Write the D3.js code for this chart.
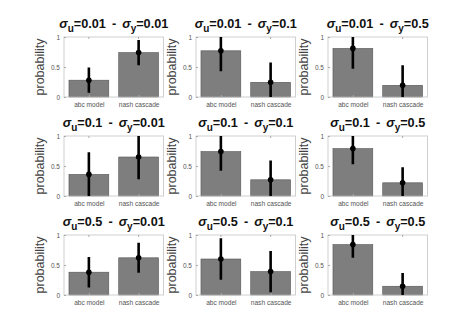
<!DOCTYPE html>
<html><head><meta charset="utf-8">
<script src="https://d3js.org/d3.v7.min.js"></script>
<style>body{margin:0;background:#fff}svg{display:block}</style>
</head><body>
<script>
const categories = ["abc model", "nash cascade"];
const sigmaUVals = ["0.01", "0.1", "0.5"];
const sigmaYVals = ["0.01", "0.1", "0.5"];
const abcMean  = [0.28, 0.77, 0.81, 0.36, 0.74, 0.79, 0.38, 0.60, 0.84];
const nashMean = [0.74, 0.245, 0.195, 0.65, 0.27, 0.22, 0.62, 0.39, 0.146];
const abcStd   = [0.21, 0.34, 0.34, 0.37, 0.32, 0.26, 0.255, 0.345, 0.22];
const nashStd  = [0.21, 0.33, 0.335, 0.37, 0.32, 0.26, 0.25, 0.345, 0.22];
const yTicks = [0, 0.5, 1];
const yTickLabels = ["0", "0.5", "1"];

const W = 474, H = 331;
const colLeft = [64, 196, 328], rowTop = [37, 136, 235];
const pw = 99.5, ph = 60;
const FONT = "Liberation Sans, Arial, sans-serif";

const svg = d3.select("body").append("svg").attr("width", W).attr("height", H);
const defs = svg.append("defs");

for (let r = 0; r < 3; r++) {
  for (let c = 0; c < 3; c++) {
    const i = r * 3 + c;
    const x0 = colLeft[c], y0 = rowTop[r];
    const g = svg.append("g").attr("transform", `translate(${x0},${y0})`);
    const x = d3.scaleLinear().domain([0.5, 2.5]).range([0, pw]);
    const y = d3.scaleLinear().domain([0, 1]).range([ph, 0]);
    const means = [abcMean[i], nashMean[i]];
    const stds = [abcStd[i], nashStd[i]];
    const cid = "clip" + i;
    defs.append("clipPath").attr("id", cid).append("rect").attr("x", 0).attr("y", 0).attr("width", pw).attr("height", ph);

    g.selectAll("rect.bar").data(means).join("rect").attr("class", "bar")
      .attr("x", (d, k) => x(k + 1 - 0.4)).attr("width", x(1.4) - x(0.6))
      .attr("y", d => y(d)).attr("height", d => y(0) - y(d))
      .attr("fill", "#7e7e7e").attr("stroke", "#555").attr("stroke-width", 0.6);

    g.append("rect").attr("x", 0).attr("y", 0).attr("width", pw).attr("height", ph)
      .attr("fill", "none").attr("stroke", "#c4c4c4").attr("stroke-width", 0.8);

    const yAxis = d3.axisLeft(y).tickValues(yTicks).tickFormat((d, k) => yTickLabels[k]).tickSizeInner(-2).tickSizeOuter(0).tickPadding(4);
    const ya = g.append("g").call(yAxis);
    ya.select(".domain").remove();
    ya.selectAll("line").attr("stroke", "#aaa");
    ya.selectAll("text").attr("font-family", FONT).attr("font-size", 6.5).attr("fill", "#555");

    const xAxis = d3.axisBottom(x).tickValues([1, 2]).tickFormat((d, k) => categories[k]).tickSizeInner(-2).tickSizeOuter(0).tickPadding(5);
    const xa = g.append("g").attr("transform", `translate(0,${ph})`).call(xAxis);
    xa.select(".domain").remove();
    xa.selectAll("line").attr("stroke", "#aaa");
    xa.selectAll("text").attr("font-family", FONT).attr("font-size", 6.6).attr("fill", "#555");
    g.selectAll("line.tt").data([1, 2]).join("line").attr("class", "tt")
      .attr("x1", d => x(d)).attr("x2", d => x(d)).attr("y1", 0).attr("y2", 2).attr("stroke", "#aaa");

    const eg = g.append("g").attr("clip-path", `url(#${cid})`);
    eg.selectAll("line.err").data(means).join("line").attr("class", "err")
      .attr("x1", (d, k) => x(k + 1)).attr("x2", (d, k) => x(k + 1))
      .attr("y1", (d, k) => y(d - stds[k])).attr("y2", (d, k) => y(d + stds[k]))
      .attr("stroke", "#000").attr("stroke-width", 2.6);
    eg.selectAll("circle").data(means).join("circle")
      .attr("cx", (d, k) => x(k + 1)).attr("cy", d => y(d)).attr("r", 2.8).attr("fill", "#000");

    g.append("text").attr("transform", `translate(-20,${ph / 2}) rotate(-90)`)
      .attr("text-anchor", "middle").attr("font-family", FONT)
      .attr("font-size", 12.5).attr("fill", "#444").text("probability");

    const t = g.append("text").attr("x", pw / 2).attr("y", -9).attr("text-anchor", "middle")
      .attr("font-family", FONT).attr("font-weight", "bold")
      .attr("font-size", 12.7).attr("fill", "#111");
    t.append("tspan").attr("font-style", "italic").text("σ");
    t.append("tspan").attr("dy", 4).attr("font-size", 10).text("u");
    t.append("tspan").attr("dy", -4).text("=" + sigmaUVals[r] + " \u2009-\u2009 ");
    t.append("tspan").attr("font-style", "italic").text("σ");
    t.append("tspan").attr("dy", 4).attr("font-size", 10).text("y");
    t.append("tspan").attr("dy", -4).text("=" + sigmaYVals[c]);
    t.attr("xml:space", "preserve").style("white-space", "pre");
  }
}
</script>
</body></html>
